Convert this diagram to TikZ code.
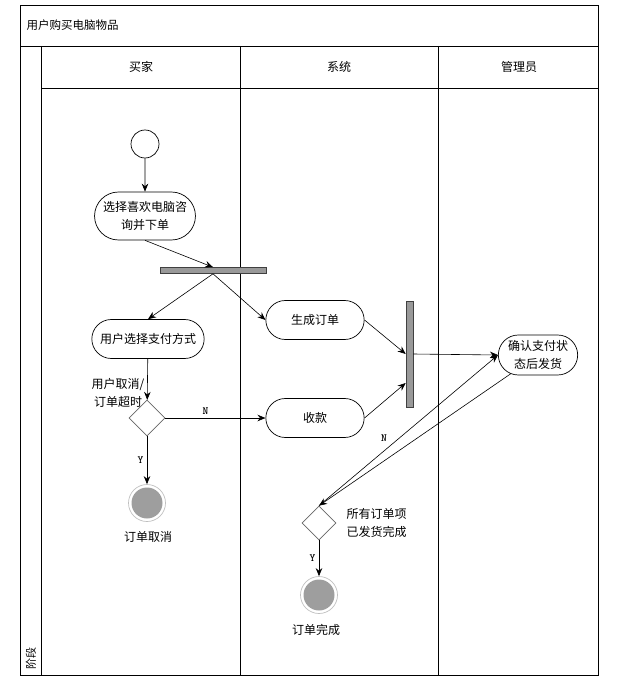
\documentclass[tikz,border=0pt]{standalone}
\usepackage{fontspec}
\setmainfont{Noto Sans CJK SC}
\usetikzlibrary{shapes.misc,shapes.geometric,calc,arrows.meta}
\begin{document}
\begin{tikzpicture}[x=1pt,y=-1pt,>={Stealth[length=8pt,width=6.5pt]},font=\fontsize{12}{18.5}\selectfont,
  act/.style={draw,rounded rectangle,minimum width=105,minimum height=39,align=center,line width=0.7pt},
  startnode/.style={draw,circle,minimum size=28,inner sep=0pt,line width=0.7pt},
  barnode/.style={draw=black!75,fill=black!40,inner sep=0pt,line width=0.6pt},
  dec/.style={draw=black!60,diamond,minimum width=36,minimum height=36,inner sep=0pt,line width=0.7pt},
  fin/.style={circle,draw=black!25,minimum size=37,inner sep=0pt,line width=0.7pt,
    path picture={\fill[black!38] (path picture bounding box.center) circle (15.5);}},
  flow/.style={->,line width=0.6pt},
  yn/.style={font=\fontsize{11}{13}\ttfamily\bfseries}]
\useasboundingbox (0,0) rectangle (638,690);
\draw[line width=0.8pt] (20,5) rectangle (598,675);
\draw[line width=0.8pt] (20,46) -- (598,46);
\draw[line width=0.8pt] (41,46) -- (41,675);
\draw[line width=0.8pt] (41,88) -- (598,88);
\draw[line width=0.8pt] (240,46) -- (240,675);
\draw[line width=0.8pt] (438,46) -- (438,675);
\node[anchor=west,font=\fontsize{11.5}{14}\selectfont] (title) at (23,25) {用户购买电脑物品};
\node (buyer) at (141,67) {买家};
\node (sys) at (339,67) {系统};
\node (admin) at (519,67) {管理员};
\node[rotate=90,font=\fontsize{11}{13}\selectfont] (stage) at (31,658) {阶段};

\node[startnode] (st) at (145,144) {};
\node[act,minimum width=97,minimum height=48] (xz) at (145,216) {选择喜欢电脑咨\\询并下单};
\node[barnode,minimum width=106,minimum height=6] (fk) at (213,270.5) {};
\node[act,minimum width=119] (zf) at (148,339) {用户选择支付方式};
\node (qx) at (118,393) [align=center] {用户取消/\\订单超时};
\node[dec] (d1) at (147,418) {};
\node[fin] (e1) at (147,503) {};
\node (t1) at (148,537) {订单取消};
\node[act] (sc) at (315,320) {生成订单};
\node[act] (sk) at (315,418) {收款};
\node[barnode,minimum width=7,minimum height=106] (jn) at (409.5,354) {};
\node[act,minimum width=86,minimum height=40] (qr) at (538,355) {确认支付状\\态后发货};
\node[dec,minimum width=34,minimum height=34] (d2) at (319,523) {};
\node[anchor=west,align=left] (fh) at (343,523) {所有订单项\\已发货完成};
\node[fin] (e2) at (319,595) {};
\node (t2) at (316,630) {订单完成};

\draw[flow] (st) -- (xz);
\draw[flow] (xz.south) -- (fk.north);
\draw[flow] (fk.south) -- (zf.north);
\draw[flow] (fk.south) -- (sc.west);
\draw[flow] (zf) -- (d1);
\draw[flow] (d1.east) -- node[yn,above,pos=0.4]{N} (sk.west);
\draw[flow] (d1) -- node[yn,left]{Y} (e1);
\draw[flow] (sc.east) -- (jn.west);
\draw[flow] (sk.east) -- ($(jn.west)+(0,29)$);
\draw[flow] (jn.east) -- (qr.west);
\draw[flow] (qr) -- (d2.north);
\draw[flow] (d2.north) -- node[yn,above left,pos=0.4]{N} (qr.west);
\draw[flow] (d2) -- node[yn,left]{Y} (e2);

\end{tikzpicture}
\end{document}
